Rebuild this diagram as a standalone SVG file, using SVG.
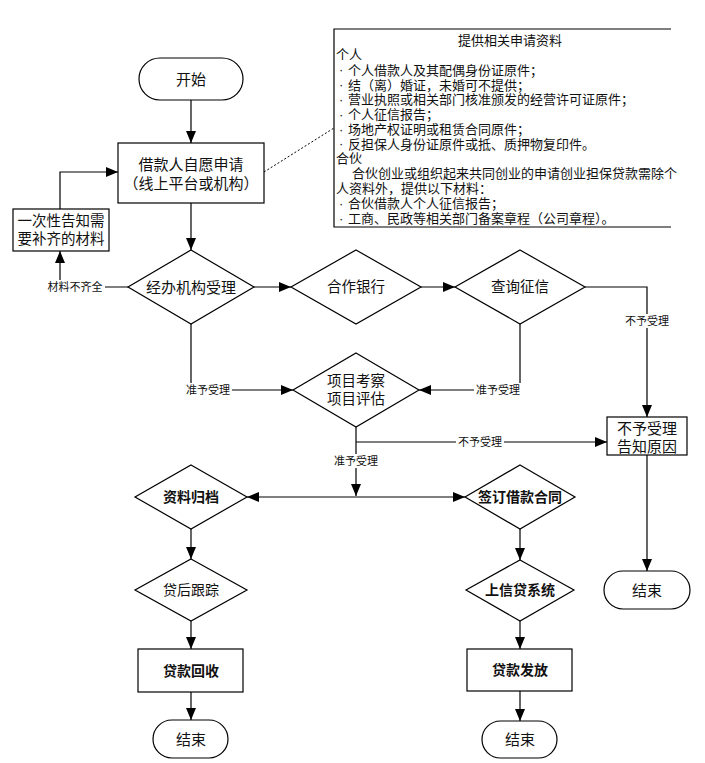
<svg xmlns="http://www.w3.org/2000/svg" width="705" height="763" viewBox="0 0 705 763">
<defs>
<marker id="arr" viewBox="0 0 12 10" refX="12" refY="5" markerWidth="12" markerHeight="10" markerUnits="userSpaceOnUse" orient="auto">
<path d="M0,0 L12,5 L0,10 Z" fill="#000"/>
</marker>
<style>
.s{fill:#fff;stroke:#000;stroke-width:1.2}
.c{fill:none;stroke:#000;stroke-width:1.2}
.a{marker-end:url(#arr)}
text{font-family:"Liberation Sans","Noto Sans CJK SC",sans-serif;fill:#111;dominant-baseline:central}
.t{font-size:15px;text-anchor:middle}
.b{font-weight:bold}
.l{font-size:11px;text-anchor:middle}
.n{font-size:13px}
.lb{fill:#fff;stroke:none}
</style>
</defs>
<rect width="705" height="763" fill="#fff"/>

<g id="connectors">
<path class="c a" d="M191,100 V143"/>
<path class="c a" d="M191,203 V250"/>
<path class="c a" d="M128,287 H60 V251"/>
<path class="c a" d="M60,209 V172 H118"/>
<path class="c a" d="M254,287 H291"/>
<path class="c a" d="M421,287 H455"/>
<path class="c a" d="M585,287 H647 V417"/>
<path class="c a" d="M191,324 V390 H293"/>
<path class="c a" d="M520,324 V390 H419"/>
<path class="c a" d="M356,427 V496"/>
<path class="c a" d="M356,442 H607"/>
<path class="c a" d="M356,497 H247"/>
<path class="c a" d="M356,497 H465"/>
<path class="c a" d="M191,529 V559"/>
<path class="c a" d="M191,621 V649"/>
<path class="c a" d="M191,692 V720"/>
<path class="c a" d="M520,529 V560"/>
<path class="c a" d="M520,621 V649"/>
<path class="c a" d="M520,691 V721"/>
<path class="c a" d="M647,455 V571"/>
<path d="M264,172 L334,128" fill="none" stroke="#000" stroke-width="1" stroke-dasharray="2,2"/>
<rect class="lb" x="45" y="280" width="60" height="14"/>
<text class="l" x="75" y="287">材料不齐全</text>
<rect class="lb" x="623" y="314" width="48" height="14"/>
<text class="l" x="647" y="321">不予受理</text>
<rect class="lb" x="184" y="383" width="48" height="14"/>
<text class="l" x="208" y="390">准予受理</text>
<rect class="lb" x="474" y="383" width="48" height="14"/>
<text class="l" x="498" y="390">准予受理</text>
<rect class="lb" x="456" y="435" width="48" height="14"/>
<text class="l" x="480" y="442">不予受理</text>
<rect class="lb" x="332" y="454" width="48" height="14"/>
<text class="l" x="356" y="461">准予受理</text>
</g>

<g id="start">
<rect class="s" x="139" y="58" width="104" height="42" rx="21"/>
<text class="t" x="191" y="79">开始</text>
</g>
<g id="apply">
<rect class="s" x="118" y="143" width="146" height="60"/>
<text class="t" x="191" y="164">借款人自愿申请</text>
<text class="t" x="191" y="183">（线上平台或机构）</text>
</g>
<g id="notify">
<rect class="s" x="13" y="209" width="96" height="42"/>
<text class="t" x="61" y="221" style="font-size:14.5px">一次性告知需</text>
<text class="t" x="61" y="239" style="font-size:14.5px">要补齐的材料</text>
</g>
<g id="note">
<path class="c" d="M671,29 H334 V227 H671" stroke-width="1"/>
<text class="n" x="510" y="40" text-anchor="middle">提供相关申请资料</text>
<text class="n" x="336" y="54.8">个人</text>
<text class="n" x="339" y="69.7">·<tspan x="348">个人借款人及其配偶身份证原件；</tspan></text>
<text class="n" x="339" y="84.5">·<tspan x="348">结（离）婚证，未婚可不提供；</tspan></text>
<text class="n" x="339" y="99.3">·<tspan x="348">营业执照或相关部门核准颁发的经营许可证原件；</tspan></text>
<text class="n" x="339" y="114.2">·<tspan x="348">个人征信报告；</tspan></text>
<text class="n" x="339" y="129">·<tspan x="348">场地产权证明或租赁合同原件；</tspan></text>
<text class="n" x="339" y="143.8">·<tspan x="348">反担保人身份证原件或抵、质押物复印件。</tspan></text>
<text class="n" x="336" y="158.7">合伙</text>
<text class="n" x="352" y="173.5">合伙创业或组织起来共同创业的申请创业担保贷款需除个</text>
<text class="n" x="336" y="188.3">人资料外，提供以下材料：</text>
<text class="n" x="339" y="203.2">·<tspan x="348">合伙借款人个人征信报告；</tspan></text>
<text class="n" x="339" y="218">·<tspan x="348">工商、民政等相关部门备案章程（公司章程）。</tspan></text>
</g>
<g id="handle">
<polygon class="s" points="191,250 254,287 191,324 128,287"/>
<text class="t" x="191" y="287">经办机构受理</text>
</g>
<g id="bank">
<polygon class="s" points="356,250 421,287 356,324 291,287"/>
<text class="t" x="356" y="287" style="font-size:14.5px">合作银行</text>
</g>
<g id="credit">
<polygon class="s" points="520,250 585,287 520,324 455,287"/>
<text class="t" x="520" y="287" style="font-size:14.5px">查询征信</text>
</g>
<g id="evaluate">
<polygon class="s" points="356,353 419,390 356,427 293,390"/>
<text class="t" x="356" y="381" style="font-size:14.5px">项目考察</text>
<text class="t" x="356" y="399" style="font-size:14.5px">项目评估</text>
</g>
<g id="reject">
<rect class="s" x="607" y="417" width="80" height="38"/>
<text class="t" x="647" y="428">不予受理</text>
<text class="t" x="647" y="446">告知原因</text>
</g>
<g id="end3">
<rect class="s" x="604" y="571" width="86" height="38" rx="19"/>
<text class="t" x="647" y="590">结束</text>
</g>
<g id="archive">
<polygon class="s" points="191,465 247,497 191,529 135,497"/>
<text class="t b" x="191" y="497" style="font-size:14px">资料归档</text>
</g>
<g id="contract">
<polygon class="s" points="520,465 575,497 520,529 465,497"/>
<text class="t b" x="520" y="497" style="font-size:14px">签订借款合同</text>
</g>
<g id="track">
<polygon class="s" points="191,559 247,590 191,621 135,590"/>
<text class="t" x="191" y="590" style="font-size:14px">贷后跟踪</text>
</g>
<g id="system">
<polygon class="s" points="520,560 574,590 520,621 466,590"/>
<text class="t b" x="520" y="590" style="font-size:14px">上信贷系统</text>
</g>
<g id="recover">
<rect class="s" x="138" y="649" width="105" height="43"/>
<text class="t b" x="191" y="671" style="font-size:14px">贷款回收</text>
</g>
<g id="issue">
<rect class="s" x="467" y="649" width="105" height="42"/>
<text class="t b" x="520" y="670" style="font-size:14px">贷款发放</text>
</g>
<g id="end1">
<rect class="s" x="153" y="720" width="75" height="38" rx="19"/>
<text class="t" x="191" y="739">结束</text>
</g>
<g id="end2">
<rect class="s" x="482" y="721" width="75" height="37" rx="18.5"/>
<text class="t" x="520" y="739">结束</text>
</g>
</svg>
